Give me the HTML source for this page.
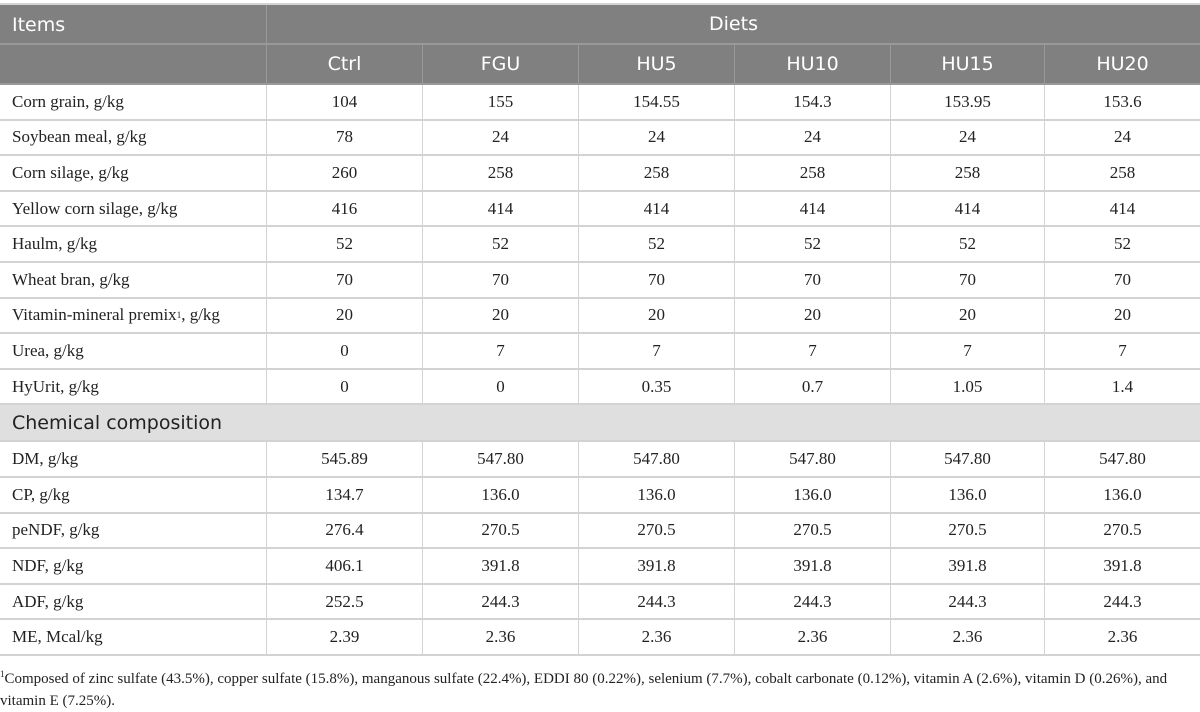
<!DOCTYPE html><html><head><style>
body{margin:0;width:1200px;height:711px;background:#fff;position:relative;overflow:hidden}
.r{position:absolute;left:0;width:1200px;box-sizing:border-box;border-bottom:2px solid #d3d3d3}
.c{position:absolute;top:0;height:100%;display:flex;align-items:center;justify-content:center;box-sizing:border-box;border-left:1.5px solid #d3d3d3;font-family:"Liberation Serif",serif;font-size:17px;color:#222}
.c.f{justify-content:flex-start;padding-left:12px;border-left:none}
.h .c{font-family:"DejaVu Sans","Liberation Sans",sans-serif;font-size:19px;color:#fff;border-left-color:#999}
.h{background:#808080;border-bottom-color:#999}
.fn{position:absolute;left:0;font-family:"Liberation Serif",serif;font-size:15px;color:#222;line-height:22px;top:668px;width:1195px}
sup{font-size:9px;vertical-align:super;line-height:0}
</style></head><body>
<div style="position:absolute;top:3px;left:0;width:1200px;height:2px;background:#d3d3d3"></div>
<div class="r h" style="top:5px;height:40px">
<div class="c f" style="left:0;width:266px;height:80px;align-items:flex-start;padding-top:9px">Items</div>
<div class="c" style="left:266px;width:934px">Diets</div></div>
<div class="r h" style="top:45px;height:40px">
<div class="c" style="left:266px;width:156px">Ctrl</div><div class="c" style="left:422px;width:156px">FGU</div><div class="c" style="left:578px;width:156px">HU5</div><div class="c" style="left:734px;width:156px">HU10</div><div class="c" style="left:890px;width:154px">HU15</div><div class="c" style="left:1044px;width:156px">HU20</div></div>
<div id="t"></div>
<div class="fn"><sup>1</sup>Composed of zinc sulfate (43.5%), copper sulfate (15.8%), manganous sulfate (22.4%), EDDI 80 (0.22%), selenium (7.7%), cobalt carbonate (0.12%), vitamin A (2.6%), vitamin D (0.26%), and vitamin E (7.25%).</div>
<script>
var rows=[["Corn grain, g/kg","104","155","154.55","154.3","153.95","153.6"],["Soybean meal, g/kg","78","24","24","24","24","24"],["Corn silage, g/kg","260","258","258","258","258","258"],["Yellow corn silage, g/kg","416","414","414","414","414","414"],["Haulm, g/kg","52","52","52","52","52","52"],["Wheat bran, g/kg","70","70","70","70","70","70"],["Vitamin-mineral premix<sup>1</sup>, g/kg","20","20","20","20","20","20"],["Urea, g/kg","0","7","7","7","7","7"],["HyUrit, g/kg","0","0","0.35","0.7","1.05","1.4"],null,["DM, g/kg","545.89","547.80","547.80","547.80","547.80","547.80"],["CP, g/kg","134.7","136.0","136.0","136.0","136.0","136.0"],["peNDF, g/kg","276.4","270.5","270.5","270.5","270.5","270.5"],["NDF, g/kg","406.1","391.8","391.8","391.8","391.8","391.8"],["ADF, g/kg","252.5","244.3","244.3","244.3","244.3","244.3"],["ME, Mcal/kg","2.39","2.36","2.36","2.36","2.36","2.36"]];
var L=[0,266,422,578,734,890,1044,1200],h="",y=85;
rows.forEach(function(r){
 if(!r){h+='<div class="r" style="top:'+y+'px;height:37px;background:#e0dfe0"><div class="c f" style="font-family:\'DejaVu Sans\',sans-serif;font-size:19px;width:400px">Chemical composition</div></div>';y+=37;return;}
 var H=35.6;h+='<div class="r" style="top:'+y+'px;height:'+H+'px">';
 r.forEach(function(v,i){h+='<div class="c'+(i?'':' f')+'" style="left:'+L[i]+'px;width:'+(L[i+1]-L[i])+'px">'+v+'</div>';});
 h+='</div>';y+=H;});
document.getElementById('t').innerHTML=h;
</script></body></html>
